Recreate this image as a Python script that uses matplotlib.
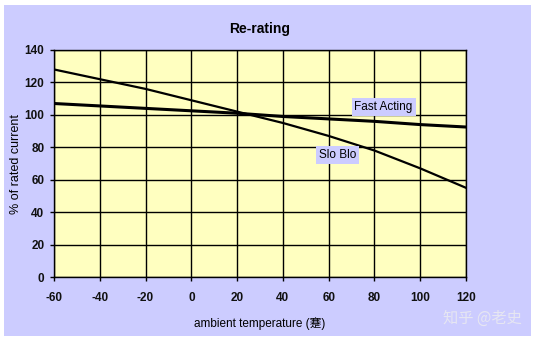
import matplotlib.pyplot as plt
from matplotlib.patches import Rectangle

temps = [-60, -40, -20, 0, 20, 40, 60, 80, 100, 120]
slo_blo = [128, 122, 116, 109, 102, 95, 87, 78, 67, 55]
fast_acting = [107, 105.5, 104, 102.5, 101, 99, 97.5, 96, 94, 92.5]
x_ticks = [-60, -40, -20, 0, 20, 40, 60, 80, 100, 120]
y_ticks = [0, 20, 40, 60, 80, 100, 120, 140]

plt.rcParams['font.family'] = ['Liberation Sans', 'Noto Sans CJK SC', 'DejaVu Sans']
plt.rcParams['axes.unicode_minus'] = False

fig = plt.figure(figsize=(5.35, 3.42), dpi=100)
fig.patch.set_facecolor('white')
fig.patches.append(Rectangle((4 / 535, 6 / 342), 527 / 535, 331 / 342,
                             transform=fig.transFigure, facecolor='#ccccff',
                             edgecolor='none', zorder=-10))

ax = fig.add_axes([54 / 535, 65 / 342, 412 / 535, 227 / 342])
ax.set_facecolor('#ffffc0')

ax.plot(temps, fast_acting, color='black', lw=2.2, zorder=3)
ax.plot(temps, slo_blo, color='black', lw=1.6, zorder=3)

ax.set_xlim(-60, 120)
ax.set_ylim(0, 140)
ax.set_xticks(x_ticks)
ax.set_yticks(y_ticks)
ax.grid(True, color='black', lw=1)
ax.set_axisbelow(True)
for s in ax.spines.values():
    s.set_linewidth(1)
ax.tick_params(direction='out', length=3, width=1, labelsize=8.5)
ax.tick_params(axis='x', pad=8)
ax.tick_params(axis='y', pad=4)
for lab in ax.get_xticklabels() + ax.get_yticklabels():
    lab.set_fontweight('bold')
    lab.set_color('#111111')

ax.set_title('Re-rating', fontsize=10, fontweight='bold', pad=12)
ax.set_xlabel('ambient temperature (蹇)', fontsize=8.5, labelpad=9)
ax.set_ylabel('% of rated current', fontsize=9)
ax.yaxis.set_label_coords(-0.078, 0.5)

box = dict(boxstyle='square,pad=0.25', facecolor='#ccccff', edgecolor='none')
ax.text(84, 105, 'Fast Acting', fontsize=8.5, ha='center', va='center', bbox=box, zorder=4)
ax.text(64, 75, 'Slo Blo', fontsize=8.5, ha='center', va='center', bbox=box, zorder=4)

fig.text(0.975, 0.07, '知乎 @老史', fontsize=11, color='#e6e6f2', ha='right', va='center',
         family=['Noto Sans CJK SC', 'DejaVu Sans'])

fig.savefig('out.png', dpi=100, facecolor=fig.get_facecolor())
